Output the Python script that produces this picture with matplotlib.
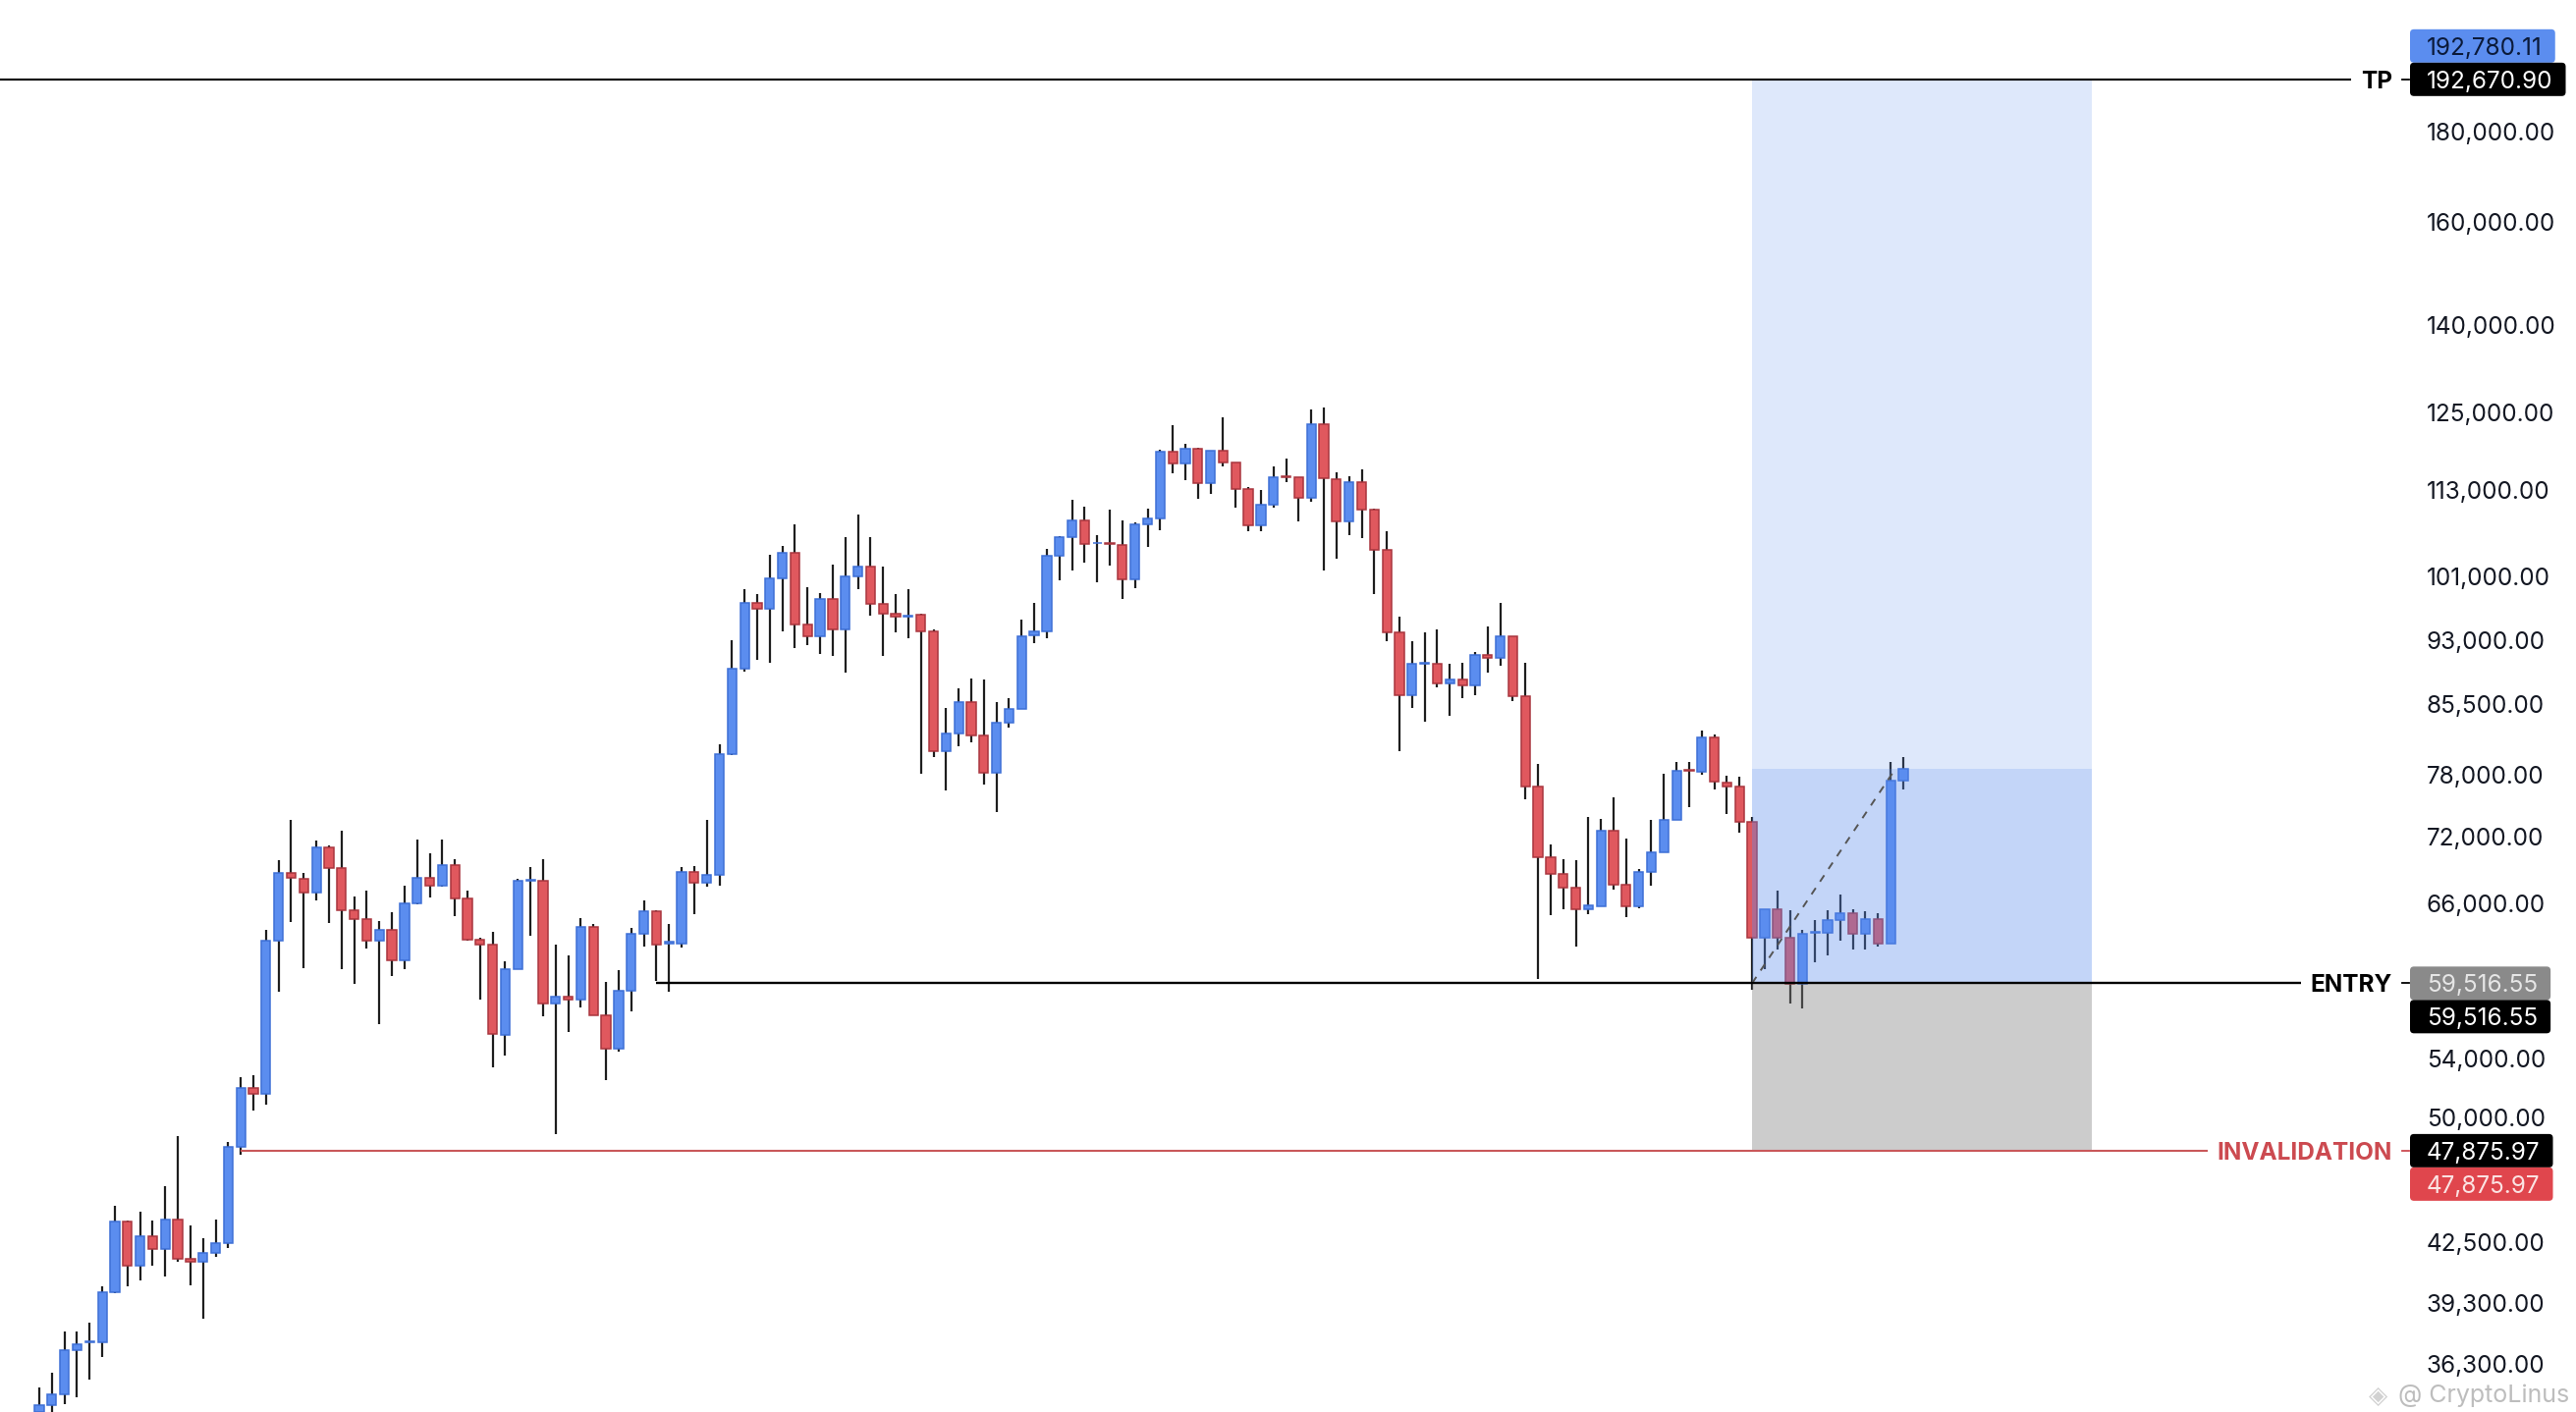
import numpy as np
import matplotlib.pyplot as plt
import matplotlib.transforms as mtransforms
from matplotlib.patches import FancyBboxPatch
from matplotlib.ticker import NullLocator

plt.rcParams['font.family'] = ['Inter', 'DejaVu Sans']

opens = [34100, 34400, 34880, 36950, 37320, 37340, 39840, 43650, 41230, 42840,
         42160, 43760, 41620, 41450, 41930, 42460, 48100, 51950, 51540, 62880,
         68670, 68190, 66970, 71050, 69150, 65450, 64710, 62940, 63770, 61350,
         66040, 68270, 67600, 69410, 66470, 63020, 62620, 55680, 60600, 68010,
         68010, 58000, 58500, 58250, 64050, 57120, 54650, 58950, 63430, 65370,
         62670, 62670, 68790, 67840, 68530, 80140, 89600, 97600, 96850, 100760,
         104110, 94900, 93400, 98100, 94290, 101020, 102320, 97480, 96240, 95820,
         96030, 94060, 80490, 82320, 85800, 82150, 78190, 83530, 84960, 93490,
         94010, 103770, 106220, 108640, 105400, 105440, 105230, 100630, 108060, 108870,
         118790, 116930, 119140, 113940, 118950, 117130, 113170, 107950, 110830, 115060,
         114920, 111880, 123060, 114570, 108410, 114180, 110190, 104480, 93960, 86550,
         90170, 90170, 87870, 88340, 87660, 91200, 90790, 93440, 86470, 76810,
         70120, 68610, 67400, 65540, 65760, 72580, 67660, 65760, 68820, 70560,
         73610, 78560, 78360, 81940, 77270, 76870, 73450, 63160, 65540, 63160,
         59450, 63560, 63560, 64570, 65200, 63430, 64710, 62670, 77400]
highs = [35180, 35890, 37870, 37870, 38300, 40140, 44590, 43700, 44230, 43700,
         45740, 48820, 43430, 42730, 43750, 48410, 52710, 52820, 63800, 69800,
         73550, 68710, 71600, 71150, 72610, 66660, 67090, 64540, 65290, 67520,
         71760, 70480, 71760, 69950, 67090, 63160, 63640, 61250, 68190, 69260,
         69890, 62620, 61690, 64790, 64320, 59630, 60520, 63970, 66320, 65450,
         64320, 69260, 69350, 73550, 81240, 93000, 99360, 98640, 103810, 105000,
         108090, 99560, 98800, 102490, 106220, 109420, 106220, 102230, 98640, 99270,
         96240, 94210, 85070, 87270, 88460, 88270, 85800, 86230, 95500, 97550,
         104690, 106350, 111590, 110500, 106490, 110180, 108640, 108270, 110220, 119040,
         122900, 119910, 119400, 118950, 124110, 117130, 113360, 113030, 116440, 117630,
         114920, 125380, 125820, 115650, 115070, 116080, 110350, 107120, 95810, 92880,
         93960, 94290, 90090, 90300, 91540, 94590, 97580, 93440, 90300, 79190,
         71270, 69950, 69800, 73830, 73700, 75830, 71850, 69060, 73610, 78120,
         79300, 79300, 82640, 82210, 77960, 77860, 73920, 65560, 67090, 65480,
         63830, 64570, 65400, 66750, 65560, 65340, 65200, 79300, 79810]
lows = [34020, 34100, 34440, 34730, 35560, 36600, 39800, 40140, 40450, 41230,
        40660, 41450, 40200, 38470, 41710, 42190, 47650, 50450, 50840, 58870,
        64460, 60710, 66320, 64380, 60580, 59500, 62280, 56470, 60090, 60600,
        65980, 66550, 67460, 64920, 62900, 58250, 53340, 54190, 60600, 63290,
        57030, 48930, 55890, 57690, 57120, 52480, 54460, 57390, 62400, 59680,
        58870, 62360, 65120, 67500, 67600, 80080, 89210, 90590, 90290, 94010,
        92030, 92340, 91250, 91050, 89060, 99360, 95910, 91050, 93890, 93210,
        78120, 79870, 76490, 81000, 81420, 77070, 74390, 82990, 84960, 92620,
        93210, 100500, 101790, 102790, 100200, 102450, 98100, 99430, 104910, 107170,
        115450, 114420, 111680, 112400, 116550, 110400, 107120, 107120, 110400, 114180,
        108500, 111210, 101790, 103370, 106490, 106150, 98690, 92800, 80460, 85100,
        83570, 87460, 84250, 86200, 86590, 89080, 89880, 85880, 75590, 59830,
        65020, 65540, 62400, 65120, 65760, 67230, 64870, 65620, 67520, 70540,
        73610, 74800, 78020, 76540, 74160, 72360, 59050, 60580, 62170, 57950,
        57630, 61170, 61690, 62940, 62170, 62170, 62400, 62670, 76540]
closes = [34400, 34880, 36950, 37230, 37360, 39840, 43650, 41230, 42840, 42160,
          43760, 41620, 41450, 41930, 42460, 48100, 51950, 51540, 62880, 68710,
          68240, 66970, 71050, 69150, 65450, 64710, 62940, 63770, 61350, 66040,
          68270, 67600, 69410, 66470, 63020, 62620, 55700, 60650, 67950, 68060,
          58000, 58500, 58250, 64050, 57120, 54650, 58950, 63430, 65370, 62620,
          62800, 68820, 67840, 68530, 80140, 89600, 97600, 96850, 100760, 104110,
          94900, 93400, 98100, 94290, 101020, 102320, 97480, 96240, 95820, 95990,
          94010, 80490, 82320, 85800, 82150, 78190, 83530, 84960, 93400, 94010,
          103770, 106220, 108640, 105370, 105440, 105370, 100630, 108090, 108920, 118790,
          116930, 119140, 113940, 118950, 117130, 113140, 107950, 110890, 114920, 114920,
          111880, 123060, 114670, 108410, 114180, 110190, 104480, 93960, 86550, 90090,
          90220, 87870, 88340, 87660, 91200, 90790, 93440, 86470, 76810, 70120,
          68640, 67400, 65540, 65820, 72580, 67660, 65760, 68820, 70600, 73610,
          78460, 78460, 81940, 77300, 76880, 73450, 63160, 65560, 63160, 59450,
          63480, 63610, 64570, 65200, 63430, 64710, 62670, 77470, 78690]

# trade levels
tp_price = 192670.90
tp_alt = 192780.11
entry_price = 59516.55
invalid_price = 47875.97
entry_bar = 136          # position box starts here
box_end_bar = 163
entry_line_start = 49
invalid_line_start = 16

ticks = [180000, 160000, 140000, 125000, 113000, 101000, 93000, 85500, 78000,
         72000, 66000, 54000, 50000, 42500, 39300, 36300]

BLUE = '#5b8def'
BLUE_EDGE = '#3d6fd6'
RED = '#e0585e'
RED_EDGE = '#a9363e'
WICK = '#1e1e1e'

fig = plt.figure(figsize=(26.23, 14.38), dpi=100)
fig.patch.set_facecolor('white')
ax = fig.add_axes([0, 0, 2454 / 2623, 1])
ax.set_facecolor('white')
ax.set_yscale('log')
ax.set_xlim(-3.12, 188.24)
ax.set_ylim(34090, 213600)
for s in ax.spines.values():
    s.set_visible(False)

o = np.array(opens, float)
c = np.array(closes, float)
h = np.array(highs, float)
l = np.array(lows, float)
x = np.arange(len(o))
up = c >= o
lo = np.minimum(o, c)
hi = np.maximum(o, c)

ax.vlines(x, l, h, color=WICK, lw=1.6, zorder=2)
ax.bar(x[up], (hi - lo)[up], bottom=lo[up], width=0.72, color=BLUE,
       edgecolor=BLUE_EDGE, linewidth=1.1, zorder=3)
ax.bar(x[~up], (hi - lo)[~up], bottom=lo[~up], width=0.72, color=RED,
       edgecolor=RED_EDGE, linewidth=1.1, zorder=3)

# long position box
zx = [entry_bar, box_end_bar]
ax.fill_between(zx, entry_price, tp_price, color=BLUE, alpha=0.2, lw=0, zorder=4)
ax.fill_between(zx, entry_price, closes[-1], color=BLUE, alpha=0.2, lw=0, zorder=4)
ax.fill_between(zx, invalid_price, entry_price, color='#808080', alpha=0.4, lw=0, zorder=4)
ax.plot([entry_bar, len(c) - 1.6], [entry_price, closes[-1]], color='#555555',
        lw=1.4, ls=(0, (4, 4)), zorder=5)

# price axis on the right
ax.yaxis.tick_right()
ax.yaxis.set_minor_locator(NullLocator())
ax.set_yticks(ticks)
ax.set_yticklabels([f'{t:,.2f}' for t in ticks])
ax.tick_params(axis='y', length=0, pad=12.2, labelsize=17.5, labelcolor='#131722')
ax.set_xticks([])

mixed = mtransforms.blended_transform_factory(ax.transAxes, ax.transData)
lab_x = 2436 / 2454
level_labels = []
for price, name, col in [(tp_price, 'TP', '#000000'),
                         (entry_price, 'ENTRY', '#000000'),
                         (invalid_price, 'INVALIDATION', '#cc4a50')]:
    t = ax.text(lab_x, price, name, transform=mixed, ha='right', va='center_baseline',
                fontsize=17.5, fontweight='bold', color=col, zorder=7)
    ax.plot([2446 / 2454, 2453 / 2454], [price, price], transform=mixed,
            color=col, lw=1.3, clip_on=False, zorder=7)
    level_labels.append(t)

# price tags
px = mtransforms.IdentityTransform()
box_h = 34
tags = [(tp_price, tp_alt, BLUE, '#0b1a3a', 1),
        (tp_price, tp_price, '#000000', '#ffffff', 0),
        (entry_price, entry_price, '#8a8a8a', '#e6e6e6', 0),
        (entry_price, entry_price, '#000000', '#ffffff', -1),
        (invalid_price, invalid_price, '#000000', '#ffffff', 0),
        (invalid_price, invalid_price, '#e0464d', '#fbe3e3', -1)]
fig.canvas.draw()
renderer = fig.canvas.get_renderer()
left = ax.bbox.x1
for level, value, face, tcol, shift in tags:
    yc = ax.transData.transform((0, level))[1] + shift * box_h
    t = ax.text(left + 17, yc, f'{value:,.2f}', transform=px, ha='left',
                va='center_baseline', fontsize=17.5, color=tcol, zorder=9, clip_on=False)
    ext = t.get_window_extent(renderer)
    box = FancyBboxPatch((left, yc - box_h / 2), ext.x1 + 13 - left, box_h,
                         boxstyle='round,pad=0,rounding_size=4', fc=face, ec='none',
                         transform=px, zorder=8, clip_on=False)
    ax.add_artist(box)

# level lines end just before their labels
inv = ax.transData.inverted()
ends = []
for t in level_labels:
    e = t.get_window_extent(renderer)
    ends.append(inv.transform((e.x0 - 10, 0))[0])
ax.hlines(tp_price, -3.12, ends[0], color='#000000', lw=1.5, zorder=6)
ax.hlines(entry_price, entry_line_start, ends[1], color='#000000', lw=1.7, zorder=6)
ax.hlines(invalid_price, invalid_line_start, ends[2], color='#c9585a', lw=1.5, zorder=6)

# watermark
fig.text(2616 / 2623, 1 - 1421 / 1438, '@ CryptoLinus', ha='right', va='center',
         fontsize=18, color='#bdbdbd')
fig.text(2422 / 2623, 1 - 1422 / 1438, '\u25c8', ha='center', va='center',
         fontsize=18, color='#d2d2d2', family='DejaVu Sans')

fig.savefig('out.png', dpi=100)
